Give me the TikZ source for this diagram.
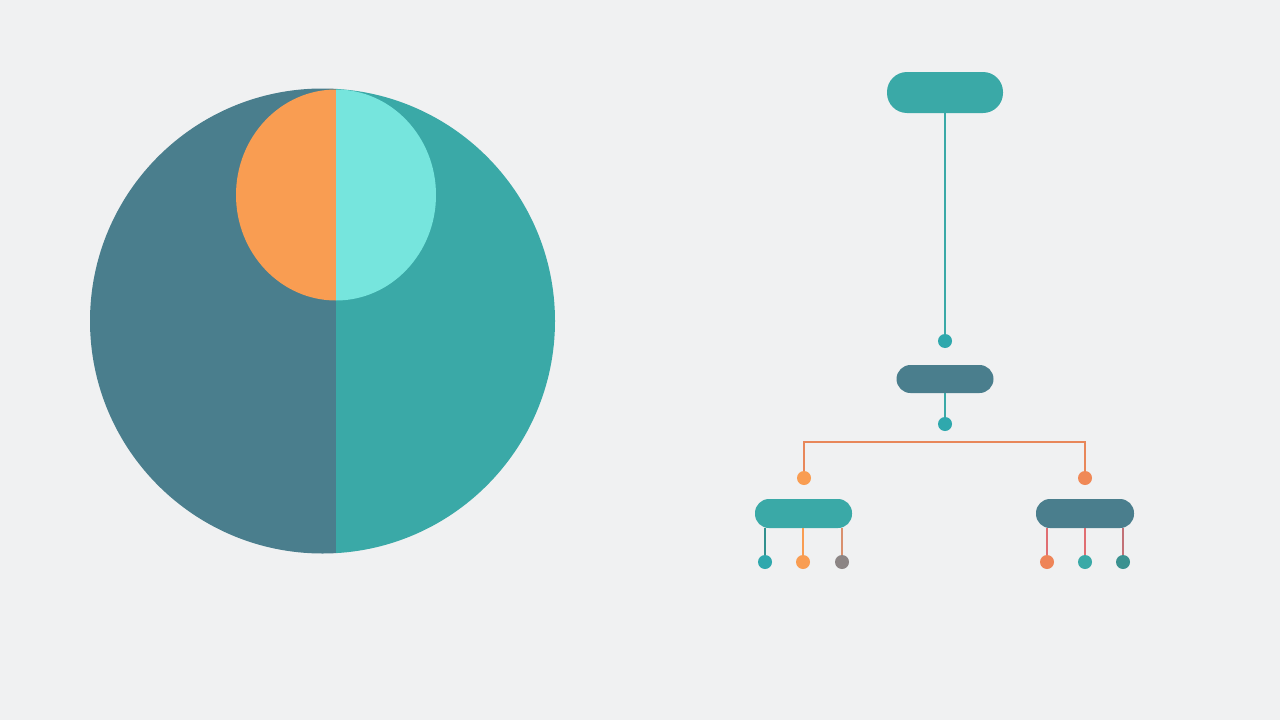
\documentclass[tikz,border=0pt]{standalone}
\begin{document}
\begin{tikzpicture}[x=1pt,y=-1pt]
\definecolor{bg}{HTML}{F0F1F2}
\definecolor{darkteal}{HTML}{4A7E8D}
\definecolor{teal}{HTML}{3AA9A7}
\definecolor{orng}{HTML}{F99D52}
\definecolor{cyanl}{HTML}{76E5DD}
\definecolor{salmon}{HTML}{E8875A}
\definecolor{dotteal}{HTML}{2FA8AD}
\definecolor{grey}{HTML}{8C8585}
\definecolor{redor}{HTML}{EE8458}
\definecolor{pinkred}{HTML}{E06E72}
\definecolor{dteal2}{HTML}{3B9190}
\definecolor{brownish}{HTML}{D9906E}
\tikzset{
  pill/.style={rounded corners=14pt, inner sep=0pt},
  dotn/.style={circle, inner sep=0pt, minimum size=14pt},
  conn/.style={line width=2pt}
}
\fill[bg] (0,0) rectangle (1280,720);
\useasboundingbox (0,0) rectangle (1280,720);
% big circle
\begin{scope}
\clip (322.5,321) circle (232.5);
\fill[darkteal] (80,80) rectangle (336,560);
\fill[teal] (336,80) rectangle (570,560);
\end{scope}
% small circle
\begin{scope}
\clip (336,195) ellipse (100 and 105.5);
\fill[orng] (230,85) rectangle (336,305);
\fill[cyanl] (336,85) rectangle (440,305);
\end{scope}
% connectors (drawn first, under nodes)
\coordinate (bl) at (804,442);
\coordinate (br) at (1085,442);
% tree nodes
\node[pill, fill=teal, minimum width=116pt, minimum height=41pt, rounded corners=20pt] (top) at (945,92.5) {};
\node[dotn, fill=dotteal] (d1) at (945,341) {};
\node[pill, fill=darkteal, minimum width=97pt, minimum height=28pt] (mid) at (945,379) {};
\node[dotn, fill=dotteal] (d2) at (945,424) {};
\node[dotn, fill=orng] (dl) at (804,478) {};
\node[dotn, fill=redor!80!orng] (dr) at (1085,478) {};
\node[pill, fill=teal, minimum width=97pt, minimum height=29pt] (lp) at (803.5,513.5) {};
\node[pill, fill=darkteal, minimum width=98pt, minimum height=29pt] (rp) at (1085,513.5) {};
\node[dotn, fill=dotteal] (l1) at (765,562) {};
\node[dotn, fill=orng] (l2) at (803,562) {};
\node[dotn, fill=grey] (l3) at (842,562) {};
\node[dotn, fill=redor] (r1) at (1047,562) {};
\node[dotn, fill=teal] (r2) at (1085,562) {};
\node[dotn, fill=dteal2] (r3) at (1123,562) {};
\draw[conn, teal] (top.south) -- (d1.north);
\draw[conn, teal] (mid.south) -- (d2.north);
\draw[conn, salmon] (dl.north) -- (bl) -- (br) -- (dr.north);
\draw[conn, teal!85!black] (l1.north) -- (l1.north |- lp.south);
\draw[conn, orng] (l2.north) -- (l2.north |- lp.south);
\draw[conn, brownish] (l3.north) -- (l3.north |- lp.south);
\draw[conn, pinkred] (r1.north) -- (r1.north |- rp.south);
\draw[conn, pinkred] (r2.north) -- (r2.north |- rp.south);
\draw[conn, pinkred!80!darkteal] (r3.north) -- (r3.north |- rp.south);
\end{tikzpicture}
\end{document}
